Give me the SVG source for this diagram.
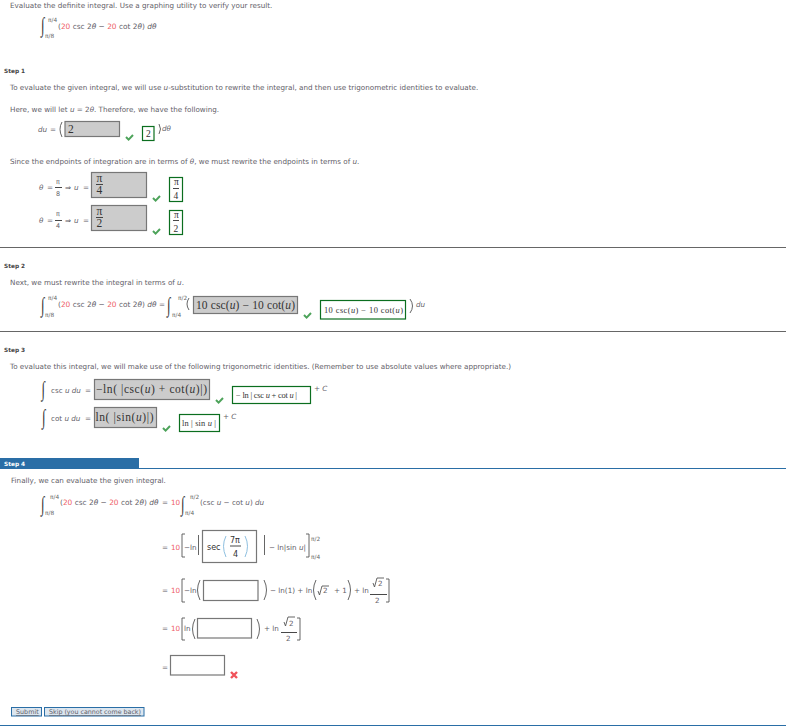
<svg xmlns="http://www.w3.org/2000/svg" width="786" height="726" viewBox="0 0 786 726">
<style>
text{font-family:"DejaVu Sans",Verdana,sans-serif;font-size:7.2px;fill:#5f6068;white-space:pre}
.i{font-style:italic}
.s{font-size:6.400px}
.e{font-size:7.400px}
.r{fill:#ee6068}
.h{font-weight:bold;font-size:5.800px;fill:#444}
.w{font-weight:bold;font-size:5.800px;fill:#fff}
.int{font-family:"Liberation Serif",serif;font-size:21px;fill:#333}
.lim{font-size:5.800px;fill:#666}
.m{font-family:"Liberation Serif",serif;fill:#333;font-size:11.500px}
.g{font-family:"Liberation Serif",serif;fill:#333;font-size:9.500px}
.g2{font-size:8.400px}
.a{fill:#ccc;stroke:#777;stroke-width:1.2}
.b{fill:#fff;stroke:#777;stroke-width:1.2}
.k{fill:#fff;stroke:#0b6e1f;stroke-width:1.2}
.l{fill:none;stroke:#555;stroke-width:.9}
.f{stroke:#333;stroke-width:.9}
.c{fill:none;stroke:#4da35a;stroke-width:2}
.x{fill:none;stroke:#f0525a;stroke-width:2.400}
.n{stroke:#666;stroke-width:1}
.u{stroke:#2a6ea6;stroke-width:1}
.t{font-family:"DejaVu Sans",sans-serif;fill:#333;font-size:8px}
.b2{font-size:6.400px;text-decoration:underline}
</style>
<defs>
<path id="ck" class="c" d="M0 0l2.600 2.600L7 -2"/>
<g id="ex"><text class="e" x="0" y="0">(<tspan class="r">20</tspan> csc 2<tspan class="i">θ</tspan> − <tspan class="r">20</tspan> cot 2<tspan class="i">θ</tspan>) <tspan class="i">dθ</tspan></text></g>
</defs>

<g id="problem">
<text x="10" y="8">Evaluate the definite integral. Use a graphing utility to verify your result.</text>
<text class="int" transform="translate(41 31.500) scale(.6 1)">∫</text><text class="lim" x="48" y="22">π/4</text><text class="lim" x="45" y="37.500">π/8</text>
<use href="#ex" x="58" y="29"/>
</g>

<g id="step1">
<text class="h" x="4" y="73">Step 1</text>
<text x="10" y="90">To evaluate the given integral, we will use <tspan class="i">u</tspan>-substitution to rewrite the integral, and then use trigonometric identities to evaluate.</text>
<text x="10" y="112">Here, we will let <tspan class="i">u</tspan> = 2<tspan class="i">θ</tspan>. Therefore, we have the following.</text>
<text class="i" x="38" y="132">du</text><text x="50" y="132">=</text>
<path class="l" d="M62 122q-4 7 0 15"/>
<rect class="a" x="65" y="121.500" width="54.500" height="15"/>
<text class="m" x="68" y="133">2</text>
<use href="#ck" x="126" y="137"/>
<rect class="k" x="142.500" y="126.500" width="11.500" height="14"/>
<text class="g" x="146" y="137">2</text>
<path class="l" d="M159 124q3 5 0 10"/>
<text class="i" x="162" y="131">dθ</text>
<text x="10" y="164">Since the endpoints of integration are in terms of <tspan class="i">θ</tspan>, we must rewrite the endpoints in terms of <tspan class="i">u</tspan>.</text>

<text class="i" x="39" y="189.500">θ</text><text x="47" y="189.500">=</text><text class="s" x="56" y="184">π</text><path class="f" d="M55 187.500h7"/><text class="s" x="56" y="195.500">8</text><text x="65" y="189.500">⇒</text><text class="i" x="74" y="189.500">u</text><text x="83" y="189.500">=</text>
<rect class="a" x="91.500" y="172.500" width="55" height="25"/>
<text class="m" x="96.500" y="182">π</text><path class="f" d="M96 184.500h7"/><text class="m" x="96.500" y="194">4</text>
<use href="#ck" x="153" y="198"/>
<rect class="k" x="169.500" y="177.500" width="13" height="24"/>
<text class="g" x="174" y="185" font-size="7">π</text><path class="f" d="M173 188.500h6"/><text class="g" x="173.500" y="199">4</text>

<text class="i" x="39" y="222.500">θ</text><text x="47" y="222.500">=</text><text class="s" x="56" y="216">π</text><path class="f" d="M55 220.500h7"/><text class="s" x="56" y="228">4</text><text x="65" y="222.500">⇒</text><text class="i" x="74" y="222.500">u</text><text x="83" y="222.500">=</text>
<rect class="a" x="91.500" y="205.500" width="55" height="25"/>
<text class="m" x="96.500" y="214.500">π</text><path class="f" d="M96 217.500h7"/><text class="m" x="96.500" y="227">2</text>
<use href="#ck" x="153" y="231"/>
<rect class="k" x="169.500" y="210.500" width="13" height="24"/>
<text class="g" x="174" y="218" font-size="7">π</text><path class="f" d="M173 220.500h6"/><text class="g" x="173.500" y="231.500">2</text>
<path class="n" d="M0 247.500H786"/>
</g>

<g id="step2">
<text class="h" x="4" y="268">Step 2</text>
<text x="10" y="285">Next, we must rewrite the integral in terms of <tspan class="i">u</tspan>.</text>
<text class="int" transform="translate(41 312) scale(.6 1)">∫</text><text class="lim" x="48" y="300">π/4</text><text class="lim" x="45" y="317">π/8</text>
<use href="#ex" x="58" y="307"/>
<text x="159" y="307">=</text>
<text class="int" transform="translate(167 312) scale(.6 1)">∫</text><text class="lim" x="178" y="300">π/2</text><text class="lim" x="172" y="317">π/4</text>
<path class="l" d="M189 298q-4 6 0 12"/>
<rect class="a" x="193.500" y="296.500" width="104" height="17"/>
<text class="m" x="196" y="308.500" textLength="99">10 csc(<tspan font-style="italic">u</tspan>) − 10 cot(<tspan font-style="italic">u</tspan>)</text>
<use href="#ck" x="304" y="315"/>
<rect class="k" x="320.500" y="300.500" width="85" height="18.500"/>
<text class="g g2" x="324" y="313" textLength="79">10 csc(<tspan font-style="italic">u</tspan>) − 10 cot(<tspan font-style="italic">u</tspan>)</text>
<path class="l" d="M410 299q5 7 0 14"/>
<text class="i" x="416" y="307">du</text>
<path class="n" d="M0 331.500H786"/>
</g>

<g id="step3">
<text class="h" x="4" y="352">Step 3</text>
<text x="10" y="369">To evaluate this integral, we will make use of the following trigonometric identities. (Remember to use absolute values where appropriate.)</text>
<text class="int" transform="translate(41.500 396) scale(.6 1)">∫</text>
<text x="51" y="393">csc <tspan class="i">u du</tspan></text><text x="85" y="393">=</text>
<rect class="a" x="94.500" y="379.500" width="115" height="20"/>
<text class="m" x="96" y="393" textLength="111">−ln( |csc(<tspan font-style="italic">u</tspan>) + cot(<tspan font-style="italic">u</tspan>)|)</text>
<use href="#ck" x="216" y="400"/>
<rect class="k" x="232.500" y="386.500" width="78" height="17"/>
<text class="g g2" x="236" y="398" textLength="61">− ln | csc <tspan font-style="italic">u</tspan> + cot <tspan font-style="italic">u</tspan> |</text>
<text x="314" y="391">+ <tspan class="i">C</tspan></text>
<text class="int" transform="translate(42 424) scale(.6 1)">∫</text>
<text x="51" y="421">cot <tspan class="i">u du</tspan></text><text x="85" y="421">=</text>
<rect class="a" x="94.500" y="407.500" width="62" height="20"/>
<text class="m" x="95.500" y="421" textLength="58">ln( |sin(<tspan font-style="italic">u</tspan>)|)</text>
<use href="#ck" x="163" y="428"/>
<rect class="k" x="179.500" y="414.500" width="40" height="17"/>
<text class="g g2" x="182" y="426" textLength="34">ln | sin <tspan font-style="italic">u</tspan> |</text>
<text x="223" y="419">+ <tspan class="i">C</tspan></text>
</g>

<g id="step4">
<rect x="0" y="458" width="139" height="10" fill="#2a6ea6"/>
<path class="u" d="M0 468.500H786"/>
<text class="w" x="4" y="465.500">Step 4</text>
<text x="11" y="483">Finally, we can evaluate the given integral.</text>
<text class="int" transform="translate(41 510.500) scale(.6 1)">∫</text><text class="lim" x="50" y="499">π/4</text><text class="lim" x="45" y="515">π/8</text>
<use href="#ex" x="60" y="505"/>
<text x="162" y="505">=</text><text class="r" x="171" y="505">10</text>
<text class="int" transform="translate(181 510.500) scale(.6 1)">∫</text><text class="lim" x="190" y="499">π/2</text><text class="lim" x="185" y="515">π/4</text>
<text x="200" y="505">(csc <tspan class="i">u</tspan> − cot <tspan class="i">u</tspan>) <tspan class="i">du</tspan></text>

<text x="162" y="549.500">=</text><text class="r" x="171" y="549.500">10</text>
<path class="l" d="M185 534h-3v23h3"/>
<text x="184" y="549.500">−ln</text><path class="l" d="M198.500 535v20"/>
<rect class="b" x="202.500" y="530.500" width="54" height="32"/>
<text class="t" x="207" y="549.500">sec</text>
<path d="M226 536q-5 10 0 21" fill="none" stroke="#8fc0e0" stroke-width="1"/>
<text class="t" x="230" y="543">7π</text><path class="f" d="M230 546h11"/><text class="t" x="233" y="557">4</text>
<path d="M245 536q5 10 0 21" fill="none" stroke="#8fc0e0" stroke-width="1"/>
<path class="l" d="M264.500 535v20"/>
<text x="269" y="549.500">− ln|sin <tspan class="i">u</tspan>|</text>
<path class="l" d="M306 534h3v23h-3"/>
<text class="lim" x="311" y="541">π/2</text><text class="lim" x="311" y="559">π/4</text>

<text x="162" y="593">=</text><text class="r" x="171" y="593">10</text>
<path class="l" d="M185 579h-3v23h3"/>
<text x="184" y="593">−ln</text>
<path class="l" d="M200 580q-5 10 0 20"/>
<rect class="b" x="203.500" y="580.500" width="54.500" height="20"/>
<path class="l" d="M264 580q5 10 0 20"/>
<text x="270" y="593">− ln(1) + ln</text>
<path class="l" d="M316 580q-5 10 0 20"/>
<path class="l" d="M318 591l1.500 4 2.500-9h7"/><text x="323" y="593">2</text>
<text x="334" y="593">+ 1</text>
<path class="l" d="M348 580q5 10 0 20"/>
<text x="354" y="593">+ ln</text>
<path class="l" d="M373 583l1.500 4 2.500-9h7"/><text x="378" y="586">2</text><path class="f" d="M370 594.500h17"/><text x="375" y="603">2</text>
<path class="l" d="M386 579h3v23h-3"/>

<text x="162" y="631">=</text><text class="r" x="171" y="631">10</text>
<path class="l" d="M185 618h-3v22h3"/>
<text x="184" y="631">ln</text>
<path class="l" d="M195 619q-5 10 0 20"/>
<rect class="b" x="197.500" y="618.500" width="54" height="19.500"/>
<path class="l" d="M257 619q5 10 0 20"/>
<text x="264" y="631">+ ln</text>
<path class="l" d="M284 622l1.500 4 2.500-9h7"/><text x="289" y="626">2</text><path class="f" d="M281 632.500h16"/><text x="286" y="641">2</text>
<path class="l" d="M297 618h3v22h-3"/>

<text x="162" y="669.500">=</text>
<rect class="b" x="170.500" y="655.500" width="54" height="19.500"/>
<path class="x" d="M231 672l6 6M237 672l-6 6"/>

<g id="submit"><rect x="11.500" y="707.500" width="30" height="8.500" fill="#dce6ef" stroke="#2a6ea6"/><text class="b2" x="16" y="714">Submit</text></g>
<g id="skip"><rect x="44.500" y="707.500" width="99.500" height="8.500" fill="#dce6ef" stroke="#2a6ea6"/><text class="b2" x="49" y="714" textLength="92">Skip (you cannot come back)</text></g>
<path class="u" d="M0 725.500H786"/>
</g>
</svg>
